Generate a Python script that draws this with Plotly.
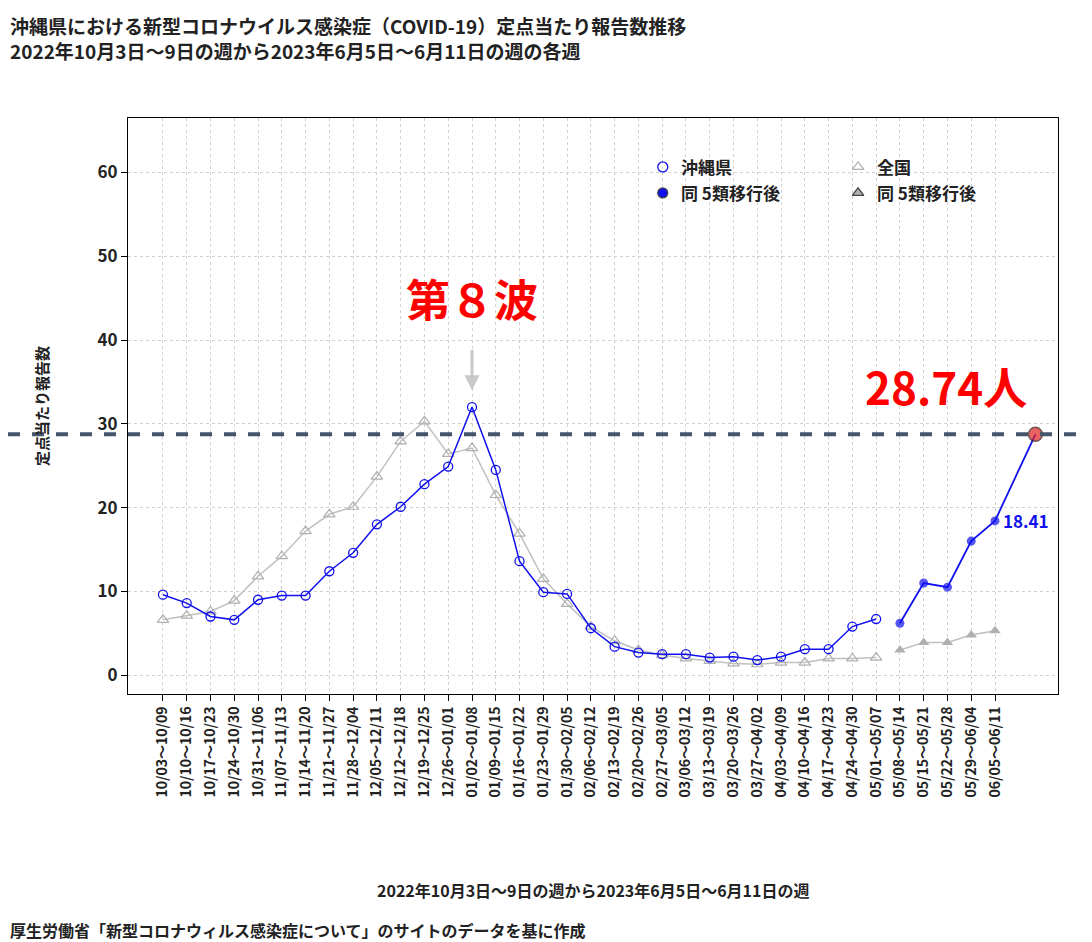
import plotly.graph_objects as go

weeks = ["10/03～10/09","10/10～10/16","10/17～10/23","10/24～10/30","10/31～11/06","11/07～11/13",
"11/14～11/20","11/21～11/27","11/28～12/04","12/05～12/11","12/12～12/18","12/19～12/25","12/26～01/01",
"01/02～01/08","01/09～01/15","01/16～01/22","01/23～01/29","01/30～02/05","02/06～02/12","02/13～02/19",
"02/20～02/26","02/27～03/05","03/06～03/12","03/13～03/19","03/20～03/26","03/27～04/02","04/03～04/09",
"04/10～04/16","04/17～04/23","04/24～04/30","05/01～05/07","05/08～05/14","05/15～05/21","05/22～05/28",
"05/29～06/04","06/05～06/11"]
okinawa_pre = [9.6,8.6,7.0,6.6,9.0,9.5,9.5,12.4,14.6,18.0,20.1,22.8,24.9,32.0,24.5,13.6,9.9,9.7,5.6,3.4,
               2.7,2.5,2.5,2.1,2.2,1.8,2.2,3.1,3.1,5.8,6.7]
okinawa_post = [6.2,11.0,10.5,16.0,18.41]
national_pre = [6.6,7.1,7.6,8.9,11.8,14.2,17.2,19.2,20.1,23.7,27.9,30.3,26.4,27.1,21.5,16.9,11.5,8.5,5.8,4.1,
                3.0,2.4,2.0,1.7,1.4,1.3,1.5,1.5,2.0,2.0,2.1]
national_post = [3.0,3.9,3.9,4.8,5.3]
latest_value = 28.74
latest_pos = 36.7
y_ticks = [0, 10, 20, 30, 40, 50, 60]

n_pre = len(okinawa_pre)
x_pre = list(range(n_pre))
x_post = list(range(n_pre, n_pre + len(okinawa_post)))

fig = go.Figure()
fig.add_trace(go.Scatter(x=x_pre, y=national_pre, mode="lines+markers",
    line=dict(color="#c0c0c0", width=1.5),
    marker=dict(symbol="triangle-up-open", size=10, color="#b0b0b0", line=dict(width=1.2))))
fig.add_trace(go.Scatter(x=x_post, y=national_post, mode="lines+markers",
    line=dict(color="#c0c0c0", width=1.5),
    marker=dict(symbol="triangle-up", size=10, color="#b0b0b0")))
fig.add_trace(go.Scatter(x=x_pre, y=okinawa_pre, mode="lines+markers",
    line=dict(color="#1010ee", width=1.5),
    marker=dict(symbol="circle-open", size=9, color="#1010ee", line=dict(width=1.3))))
fig.add_trace(go.Scatter(x=x_post + [latest_pos], y=okinawa_post + [latest_value], mode="lines+markers",
    line=dict(color="#1010ee", width=1.8),
    marker=dict(symbol="circle", size=[9]*len(okinawa_post) + [14], color=["#1010ee"]*len(okinawa_post) + ["#e02020"],
                line=dict(width=[0]*len(okinawa_post) + [1.5], color="#3a1010"))))

fig.add_shape(type="line", xref="paper", yref="y", x0=-0.129, x1=1.024, y0=latest_value, y1=latest_value,
              line=dict(color="#44546a", width=4, dash="dash"))

F = "Noto Sans CJK JP"
fig.add_annotation(x=x_post[-1], y=okinawa_post[-1], text="<b>18.41</b>", showarrow=False, xanchor="left", xshift=6,
                   yshift=0, font=dict(size=17, color="#1010ee", family=F))
fig.add_annotation(x=latest_pos, y=latest_value, text="<b>28.74人</b>", showarrow=False, yshift=48, xanchor="right",
                   xshift=-6, font=dict(size=44, color="#ff0000", family=F))
fig.add_annotation(x=13, y=45, text="<b>第８波</b>", showarrow=False, font=dict(size=44, color="#ff0000", family=F))
fig.add_annotation(x=13, y=34, ax=13, ay=39, xref="x", yref="y", axref="x", ayref="y", text="",
                   showarrow=True, arrowhead=2, arrowsize=1, arrowwidth=3, arrowcolor="#c8c8c8")

# legend (manual)
legend_items = [
    (0.575, 0.915, "circle-open", "#1010ee", "沖縄県"),
    (0.575, 0.87, "circle", "#1010ee", "同 5類移行後"),
    (0.785, 0.915, "triangle-up-open", "#b0b0b0", "全国"),
    (0.785, 0.87, "triangle-up", "#b0b0b0", "同 5類移行後"),
]
for lx, ly, sym, col, txt in legend_items:
    fig.add_trace(go.Scatter(x=[lx], y=[ly], xaxis="x2", yaxis="y2", mode="markers",
                             marker=dict(symbol=sym, size=10, color=col, line=dict(width=1.3)),
                             hoverinfo="skip"))
    fig.add_annotation(x=lx + 0.018, y=ly, xref="x2", yref="y2", text="<b>" + txt + "</b>",
                       showarrow=False, xanchor="left", font=dict(size=17, color="#222", family=F))

fig.add_annotation(x=0, y=1, xref="paper", yref="paper", xanchor="left", yanchor="top", xshift=-120, yshift=108,
    align="left", showarrow=False, font=dict(size=19, color="#222", family=F),
    text="<b>沖縄県における新型コロナウイルス感染症（COVID-19）定点当たり報告数推移<br>2022年10月3日～9日の週から2023年6月5日～6月11日の週の各週</b>")
fig.add_annotation(x=0.5, y=0, xref="paper", yref="paper", yanchor="top", yshift=-182, showarrow=False,
    font=dict(size=16, color="#222", family=F), text="<b>2022年10月3日～9日の週から2023年6月5日～6月11日の週</b>")
fig.add_annotation(x=0, y=0, xref="paper", yref="paper", xanchor="left", yanchor="top", xshift=-120, yshift=-222,
    showarrow=False, font=dict(size=16, color="#222", family=F),
    text="<b>厚生労働省「新型コロナウィルス感染症について」のサイトのデータを基に作成</b>")

fig.update_layout(
    width=1092, height=942, margin=dict(l=120, r=42, t=110, b=256, pad=0),
    paper_bgcolor="white", plot_bgcolor="white", showlegend=False,
    font=dict(family=F, color="#222"),
    xaxis=dict(range=[-1.47, 37.65], tickmode="array", tickvals=list(range(len(weeks))),
               ticktext=["<b>" + w + "</b>" for w in weeks],
               tickangle=-90, tickfont=dict(size=14, family=F), showgrid=True, gridcolor="#d0d0d0",
               griddash="dot", zeroline=False, showline=True, linecolor="black", mirror=True,
               ticks="outside", ticklen=6, tickcolor="black"),
    yaxis=dict(range=[-2.25, 66.5], tickmode="array", tickvals=y_ticks,
               ticktext=["<b>%d</b>" % v for v in y_ticks], tickfont=dict(size=17, family=F),
               showgrid=True, gridcolor="#d0d0d0", griddash="dot", zeroline=False, showline=True,
               linecolor="black", mirror=True, ticks="outside", ticklen=6, tickcolor="black",
               title=dict(text="<b>定点当たり報告数</b>", font=dict(size=15, family=F), standoff=45)),
    xaxis2=dict(range=[0, 1], overlaying="x", visible=False),
    yaxis2=dict(range=[0, 1], overlaying="y", visible=False),
)
fig.write_html("out.html")
